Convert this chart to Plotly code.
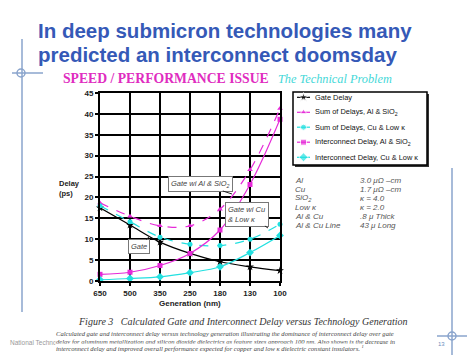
import plotly.graph_objects as go

W, H = 474, 355

categories = ["650", "500", "350", "250", "180", "130", "100"]
gate_delay = [17.5, 13.4, 9.3, 6.6, 4.6, 3.4, 2.5]
sum_al_sio2 = [18.7, 15.5, 13.2, 13.2, 17.2, 26.6, 41.3]
sum_cu_lowk = [18.0, 14.2, 10.5, 8.8, 8.5, 10.0, 13.6]
ic_al_sio2 = [1.6, 2.1, 3.7, 6.6, 12.2, 23.1, 38.7]
ic_cu_lowk = [0.3, 0.6, 1.0, 2.0, 3.4, 6.8, 10.9]

series_names = ["Gate Delay", "Sum of Delays, Al & SiO<sub>2</sub>", "Sum of Delays, Cu & Low κ",
                "Interconnect Delay, Al & SiO<sub>2</sub>", "Interconnect Delay, Cu & Low κ"]
series_values = [gate_delay, sum_al_sio2, sum_cu_lowk, ic_al_sio2, ic_cu_lowk]

table_labels = ["Al", "Cu", "SiO<sub>2</sub>", "Low κ", "Al & Cu", "Al & Cu Line"]
table_values = ["3.0 μΩ –cm", "1.7 μΩ –cm", "κ = 4.0", "κ = 2.0", ".8 μ Thick", "43 μ Long"]

MAG = "#E62AD8"
CYN = "#22E0E0"
styles = [
    dict(color="black", dash="solid", symbol="star", size=6),
    dict(color=MAG, dash="dash", symbol="triangle-up", size=5),
    dict(color=CYN, dash="dash", symbol="circle", size=5),
    dict(color=MAG, dash="solid", symbol="square", size=5),
    dict(color=CYN, dash="solid", symbol="diamond", size=6),
]

def px(x):
    return x / W

def py(y):
    return 1 - y / H

fig = go.Figure()

for name, vals, st in zip(series_names, series_values, styles):
    fig.add_trace(go.Scatter(
        x=categories, y=vals, name=name, mode="lines+markers",
        line=dict(color=st["color"], dash=st["dash"], width=1.2, shape="spline"),
        marker=dict(color=st["color"], symbol=st["symbol"], size=st["size"]),
        cliponaxis=False, showlegend=False, xaxis="x", yaxis="y",
    ))

# manual legend (pixel overlay axes)
leg_rows = [97.3, 112.3, 127.2, 142.2, 157.3]
for name, st, yy in zip(series_names, styles, leg_rows):
    fig.add_trace(go.Scatter(
        x=[297, 303.5, 310], y=[yy, yy, yy], mode="lines+markers",
        line=dict(color=st["color"], width=1.2),
        marker=dict(color=st["color"], symbol=st["symbol"], size=[0, st["size"] + 1, 0]),
        showlegend=False, xaxis="x2", yaxis="y2", hoverinfo="skip",
    ))

annotations = []
shapes = []

# legend box with shadow
shapes.append(dict(type="rect", xref="paper", yref="paper", x0=px(295), x1=px(429),
                   y0=py(167), y1=py(94), fillcolor="#333", line=dict(width=0), layer="below"))
shapes.append(dict(type="rect", xref="paper", yref="paper", x0=px(293), x1=px(427),
                   y0=py(165), y1=py(92), fillcolor="white", line=dict(color="black", width=1.5), layer="below"))
for name, yy in zip(series_names, leg_rows):
    annotations.append(dict(xref="paper", yref="paper", x=px(313), y=py(yy), text=name,
                            showarrow=False, xanchor="left", yanchor="middle",
                            font=dict(family="Liberation Sans, Arial", size=7.4, color="#111")))

# material table
table_rows = [180.7, 189.5, 198.4, 207.3, 216.5, 225.6]
for lab, val, yy in zip(table_labels, table_values, table_rows):
    annotations.append(dict(xref="paper", yref="paper", x=px(293), y=py(yy), text="<i>" + lab + "</i>",
                            showarrow=False, xanchor="left", yanchor="middle",
                            font=dict(family="Liberation Sans, Arial", size=8, color="#555")))
    annotations.append(dict(xref="paper", yref="paper", x=px(358), y=py(yy), text="<i>" + val + "</i>",
                            showarrow=False, xanchor="left", yanchor="middle",
                            font=dict(family="Liberation Sans, Arial", size=8, color="#555")))

# titles
annotations.append(dict(xref="paper", yref="paper", x=px(36), y=py(30.5), text="<b>In deep submicron technologies many</b>",
                        showarrow=False, xanchor="left", yanchor="middle",
                        font=dict(family="Liberation Sans, Arial", size=20.5, color="#3559B7")))
annotations.append(dict(xref="paper", yref="paper", x=px(36), y=py(54), text="<b>predicted an interconnect doomsday</b>",
                        showarrow=False, xanchor="left", yanchor="middle",
                        font=dict(family="Liberation Sans, Arial", size=20.5, color="#3559B7")))
annotations.append(dict(xref="paper", yref="paper", x=px(61), y=py(78), text="<b>SPEED / PERFORMANCE ISSUE</b>",
                        showarrow=False, xanchor="left", yanchor="middle",
                        font=dict(family="Liberation Serif, Times New Roman", size=13.7, color="#E02CC0")))
annotations.append(dict(xref="paper", yref="paper", x=px(276), y=py(78.5), text="<i>The Technical Problem</i>",
                        showarrow=False, xanchor="left", yanchor="middle",
                        font=dict(family="Liberation Serif, Times New Roman", size=12.3, color="#44D8D8")))

# axis titles
annotations.append(dict(xref="paper", yref="paper", x=px(57), y=py(188), text="<b>Delay<br>(ps)</b>",
                        showarrow=False, xanchor="left", yanchor="middle", align="left",
                        font=dict(family="Liberation Sans, Arial", size=7.5, color="#222")))
annotations.append(dict(xref="paper", yref="paper", x=px(190), y=py(303.5), text="<b>Generation (nm)</b>",
                        showarrow=False, xanchor="center", yanchor="middle",
                        font=dict(family="Liberation Sans, Arial", size=8, color="#222")))

# callouts in chart
callouts = [
    ("<i>Gate wi Al & SiO<sub>2</sub></i>", 200, 183.5, 232, 194),
    ("<i>Gate wi Cu<br>& Low κ</i>", 246.5, 214, 268, 228),
    ("<i>Gate</i>", 138.5, 246.5, 150, 236),
]
for txt, cx, cy, tx, ty in callouts:
    annotations.append(dict(xref="paper", yref="paper", x=px(tx), y=py(ty), text=txt,
                            showarrow=True, arrowhead=0, arrowwidth=1, arrowcolor="#222",
                            ax=cx - tx, ay=cy - ty, axref="pixel", ayref="pixel",
                            bgcolor="white", bordercolor="#777", borderwidth=1, borderpad=2, align="left",
                            font=dict(family="Liberation Sans, Arial", size=7.5, color="#444")))

# figure caption
annotations.append(dict(xref="paper", yref="paper", x=px(243), y=py(321.5),
                        text="<i>Figure 3   Calculated Gate and Interconnect Delay versus Technology Generation</i>",
                        showarrow=False, xanchor="center", yanchor="middle",
                        font=dict(family="Liberation Serif, Times New Roman", size=10, color="#333")))
annotations.append(dict(xref="paper", yref="paper", x=px(8), y=py(342.5), text="National Technology Roadmap",
                        showarrow=False, xanchor="left", yanchor="middle",
                        font=dict(family="Liberation Sans, Arial", size=6.5, color="#999")))
caption_lines = [
    "Calculated gate and interconnect delay versus technology generation illustrating the dominance of interconnect delay over gate",
    "delay for aluminum metallization and silicon dioxide dielectrics as feature sizes approach 100 nm. Also shown is the decrease in",
    "interconnect delay and improved overall performance expected for copper and low κ dielectric constant insulators. <sup>1</sup>",
]
caption_rows = [333.3, 341.0, 348.3]
for line, yy in zip(caption_lines, caption_rows):
    annotations.append(dict(xref="paper", yref="paper", x=px(55), y=py(yy),
                            text="<i>" + line + "</i>",
                            showarrow=False, xanchor="left", yanchor="middle", align="left",
                            bgcolor="white", borderpad=0,
                            font=dict(family="Liberation Serif, Times New Roman", size=6.6, color="#444")))
annotations.append(dict(xref="paper", yref="paper", x=px(441), y=py(344), text="13",
                        showarrow=False, xanchor="center", yanchor="middle",
                        font=dict(family="Liberation Sans, Arial", size=6, color="#6F8FC0")))

# slide decoration
DEC = "#8AA4CC"
shapes += [
    dict(type="line", xref="paper", yref="paper", x0=px(22), x1=px(22), y0=py(39), y1=py(312), line=dict(color=DEC, width=1.5), layer="below"),
    dict(type="line", xref="paper", yref="paper", x0=px(12), x1=px(43), y0=py(73), y1=py(73), line=dict(color=DEC, width=1.5)),
    dict(type="circle", xref="paper", yref="paper", x0=px(17), x1=px(25), y0=py(77), y1=py(69), line=dict(color=DEC, width=1.5)),
    dict(type="line", xref="paper", yref="paper", x0=px(452), x1=px(452), y0=py(168), y1=py(355), line=dict(color=DEC, width=1.5)),
    dict(type="line", xref="paper", yref="paper", x0=px(437), x1=px(467), y0=py(336), y1=py(336), line=dict(color=DEC, width=1.5)),
    dict(type="circle", xref="paper", yref="paper", x0=px(448), x1=px(456), y0=py(340), y1=py(332), line=dict(color=DEC, width=1.5)),
]

axis_font = dict(family="Liberation Sans, Arial", size=8, color="#222", weight="bold")
fig.update_layout(
    width=W, height=H, autosize=False,
    margin=dict(l=0, r=0, t=0, b=0),
    paper_bgcolor="white", plot_bgcolor="rgba(0,0,0,0)",
    xaxis=dict(domain=[px(100), px(280)], type="category", categoryorder="array", categoryarray=categories,
               range=[0, 6], showgrid=True, gridcolor="black", gridwidth=1.5,
               showline=True, linecolor="black", linewidth=1.8, mirror=True,
               ticks="outside", ticklen=3, tickwidth=1.5, tickcolor="black",
               tickfont=axis_font, automargin=False, fixedrange=True, zeroline=False),
    yaxis=dict(domain=[py(281), py(93)], range=[0, 45], dtick=5, showgrid=True, gridcolor="black", gridwidth=1.5,
               showline=True, linecolor="black", linewidth=1.8, mirror=True,
               ticks="outside", ticklen=3, tickwidth=1.5, tickcolor="black",
               tickfont=axis_font, automargin=False, fixedrange=True, zeroline=False),
    xaxis2=dict(domain=[0, 1], range=[0, W], visible=False, anchor="y2", fixedrange=True),
    yaxis2=dict(domain=[0, 1], range=[H, 0], visible=False, anchor="x2", fixedrange=True),
    annotations=annotations, shapes=shapes,
)

fig.write_html("out.html", config={"displayModeBar": False},
               post_script="document.body.style.margin='0';document.body.style.padding='0';document.body.style.overflow='hidden';")
